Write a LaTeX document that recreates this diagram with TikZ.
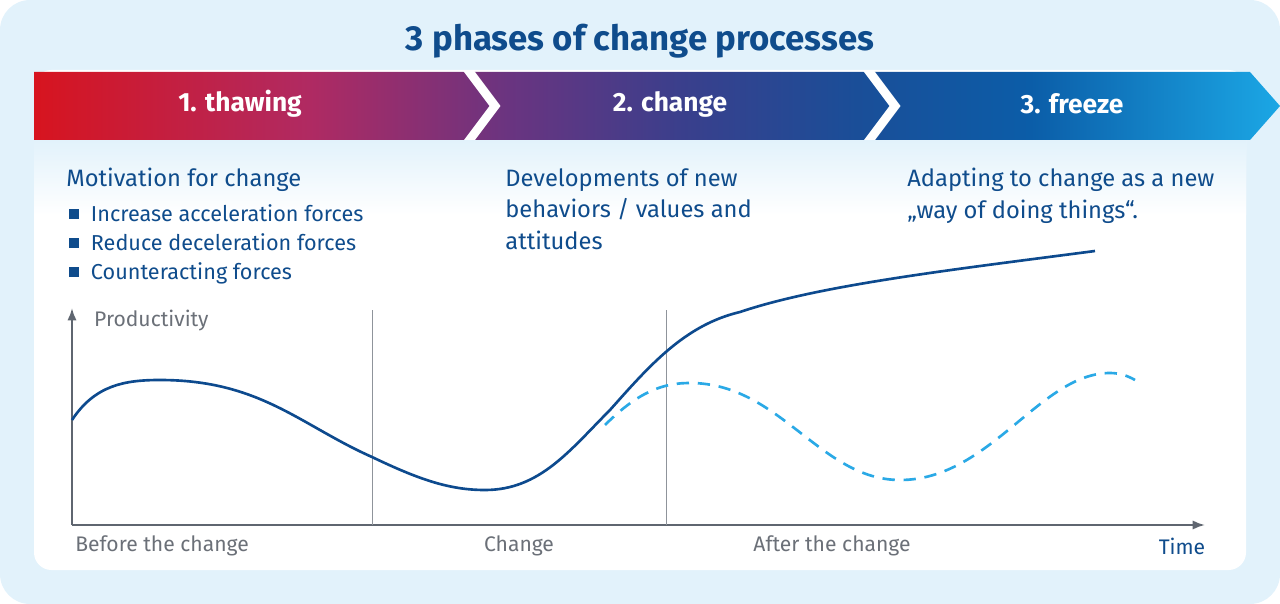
\documentclass[tikz,border=0pt]{standalone}
\usepackage{fontspec}
\setmainfont{Fira Sans}
\usetikzlibrary{arrows.meta}
\definecolor{bgblue}{HTML}{E2F2FB}
\definecolor{navy}{HTML}{0F4C8C}
\definecolor{curveblue}{HTML}{0D4A8E}
\definecolor{lightcurve}{HTML}{2AA9E6}
\definecolor{axisgray}{HTML}{5F6670}
\definecolor{labelgray}{HTML}{6B7078}
\definecolor{ph1}{HTML}{D7141F}
\definecolor{ph2}{HTML}{B02A62}
\definecolor{ph3}{HTML}{6A3480}
\definecolor{ph4}{HTML}{3A3F8C}
\definecolor{ph5}{HTML}{1A4E98}
\definecolor{ph6}{HTML}{0B5DA8}
\definecolor{ph7}{HTML}{1BA7E5}
\pgfdeclarehorizontalshading{phases}{100bp}{
  color(0bp)=(ph1); color(25bp)=(ph1); color(36bp)=(ph2); color(44bp)=(ph3);
  color(51bp)=(ph4); color(58bp)=(ph5); color(65bp)=(ph6);
  color(75bp)=(ph7); color(100bp)=(ph7)}
\tikzset{
  phase/.style={font=\bfseries\fontsize{15}{17}\selectfont,text=white},
  body/.style={font=\fontsize{13.5}{18}\selectfont,text=navy,align=left,anchor=north west,inner sep=0pt},
  item/.style={body,font=\fontsize{12.3}{14}\selectfont},
  axislabel/.style={font=\fontsize{12}{14}\selectfont,text=labelgray}
}
\newcommand{\bulletsq}{\textcolor{navy}{\rule[0.12em]{0.45em}{0.45em}}\hspace{0.55em}}
\begin{document}
\begin{tikzpicture}[x=0.02cm,y=-0.02cm]
\fill[bgblue,rounded corners=0.6cm] (0,0) rectangle (1280,604);
\fill[white,rounded corners=0.35cm] (34,70) rectangle (1246,570);
\shade[top color=bgblue,bottom color=white] (34,140) rectangle (1246,215);
% title
\node[font=\bfseries\fontsize{19.8}{23}\selectfont,text=navy] (title) at (640,41) {3 phases of change processes};
% chevron band
\shade[shading=phases] (34,72) -- (1250,72) -- (1280,106) -- (1250,140) -- (34,140) -- cycle;
\begin{scope}
  \clip (34,72) rectangle (1280,140);
  \draw[white,line width=5pt] (465,66) -- (495,106) -- (465,146);
  \draw[white,line width=5pt] (865,66) -- (895,106) -- (865,146);
\end{scope}
\node[phase] (thaw) at (240,104) {1. thawing};
\node[phase] (chg) at (670,104) {2. change};
\node[phase] (frz) at (1072,104) {3. freeze};
% texts
\node[body] (motiv) at (66,168) {Motivation for change};
\node[item] (b1) at (69,204) {\bulletsq Increase acceleration forces};
\node[item] (b2) at (69,233) {\bulletsq Reduce deceleration forces};
\node[item] (b3) at (69,262) {\bulletsq Counteracting forces};
\node[body] (devel) at (505,168) {Developments of new\\behaviors / values and\\attitudes};
\node[body] (adapt) at (907,168) {Adapting to change as a new\\„way of doing things“.};
% axes
\coordinate (o) at (72,525);
\coordinate (xend) at (1205,525);
\coordinate (yend) at (72,308);
\draw[axisgray,line width=1.2pt,-{Latex[length=7pt]}] (o) -- (xend);
\draw[axisgray,line width=1.2pt,-{Latex[length=7pt]}] (o) -- (yend);
\draw[axisgray!70] (372,310) -- (372,525);
\draw[axisgray!70] (666,310) -- (666,525);
\node[axislabel,anchor=west] (prod) at (88,321) {Productivity};
\node[axislabel] (before) at (162,546) {Before the change};
\node[axislabel] (during) at (519,546) {Change};
\node[axislabel] (after) at (832,546) {After the change};
\node[font=\fontsize{12}{14}\selectfont,text=navy] (time) at (1182,546) {Time};
% curves
\draw[lightcurve,line width=1.5pt,dash pattern=on 7pt off 5pt]
  (605,425) .. controls (640,390) and (665,383) .. (690,383)
  .. controls (780,383) and (820,480) .. (900,480)
  .. controls (990,480) and (1040,373) .. (1110,373)
  .. controls (1120,373) and (1128,376) .. (1135,380);
\draw[curveblue,line width=1.5pt]
  (72,420) .. controls (95,385) and (125,380) .. (160,380)
  .. controls (260,380) and (300,425) .. (372,457)
  .. controls (420,480) and (450,490) .. (485,490)
  .. controls (540,490) and (570,450) .. (610,410)
  .. controls (650,365) and (685,325) .. (740,312)
  .. controls (820,285) and (950,270) .. (1095,251);
\end{tikzpicture}
\end{document}
